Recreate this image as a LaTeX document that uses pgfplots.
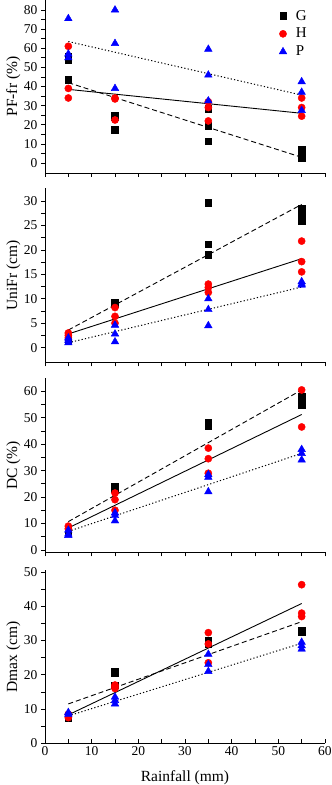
\documentclass[border=0pt]{standalone}
\usepackage{pgfplots}
\pgfplotsset{compat=1.18}
\usepackage{fontspec}
\setmainfont{Liberation Serif}
\definecolor{myred}{RGB}{255,0,0}
\definecolor{myblue}{RGB}{0,0,255}
\pgfplotsset{
  panel/.style={
    scale only axis, width=280pt, anchor=south west,
    axis lines*=left, axis line style={-, line width=0.8pt},
    xmin=0, xmax=60, xtick={0,10,...,60}, minor x tick num=1,
    /pgf/number format/assume math mode=true,
    tick label style={font=\fontsize{13.5}{13.5}\selectfont},
    label style={font=\fontsize{15.5}{15.5}\selectfont},
    major tick length=4pt, minor tick length=4pt,
    tick style={line width=0.7pt, black},
    tick align=outside,
    ylabel style={at={(axis description cs:-0.113,0.5)}, anchor=center},
    clip=false,
  },
  gmark/.style={only marks, mark=square*, mark size=3.3pt, black, mark options={fill=black, draw=black}},
  hmark/.style={only marks, mark=*, mark size=3.6pt, myred, mark options={fill=myred, draw=myred}},
  pmark/.style={only marks, mark=triangle*, mark size=4.4pt, myblue, mark options={fill=myblue, draw=myblue}},
  gline/.style={no marks, black, line width=0.9pt, dash pattern=on 5pt off 3pt},
  hline/.style={no marks, black, line width=0.9pt},
  pline/.style={no marks, black, line width=1pt, dash pattern=on 1.2pt off 2.2pt},
}
\begin{document}
\begin{tikzpicture}
\useasboundingbox (0,0) rectangle (332pt,785pt);
% Panel 1: PF-fr
\begin{axis}[panel, at={(45pt,612pt)}, height=173pt,
  ymin=-5.2, ymax=85.2, ytick={0,10,...,80}, minor y tick num=1,
  xticklabels={}, ylabel={PF-fr (\%)},
  legend style={draw=none, fill=none, at={(axis description cs:0.825,0.965)}, anchor=north west,
    font=\fontsize{15}{15}\selectfont, row sep=2.5pt, cells={anchor=west},
    /tikz/every odd column/.append style={column sep=7pt}},
  legend cell align=left]
\addplot[gmark] coordinates {(5,43.5) (5,54) (5,55.5) (15,25) (15,24) (15,17.5) (35,28.5) (35,19.5) (35,11.5) (55,7) (55,5) (55,2.5)};
\addlegendentry{G}
\addplot[hmark] coordinates {(5,61) (5,39) (5,34) (15,34) (15,33.5) (15,22.5) (35,32) (35,29) (35,22) (55,34) (55,29) (55,24.5)};
\addlegendentry{H}
\addplot[pmark] coordinates {(5,75.5) (5,57) (5,55) (15,80) (15,62.5) (15,39) (35,59.5) (35,46) (35,32.5) (55,42.5) (55,37) (55,27.5)};
\addlegendentry{P}
\addplot[gline] coordinates {(5,42) (55,3)};
\addplot[hline] coordinates {(5,38.5) (55,26)};
\addplot[pline] coordinates {(5,63.5) (55,35.5)};
\end{axis}
% Panel 2: UniFr
\begin{axis}[panel, at={(45pt,422.7pt)}, height=174pt,
  ymin=-3, ymax=32.6, ytick={0,5,...,30}, minor y tick num=1,
  xticklabels={}, ylabel={UniFr (cm)}]
\addplot[gmark] coordinates {(5,2) (5,1.5) (15,9.3) (15,9) (35,29.7) (35,21.2) (35,19) (55,28.5) (55,27) (55,26)};
\addplot[hmark] coordinates {(5,3) (5,2.5) (5,2) (15,8.2) (15,6.4) (15,5) (35,13) (35,12.3) (35,11.3) (55,21.8) (55,17.6) (55,15.5)};
\addplot[pmark] coordinates {(5,2) (5,1.5) (5,1) (15,4.6) (15,2.8) (15,1.2) (35,10) (35,7.8) (35,4.5) (55,13.5) (55,13) (55,12.8)};
\addplot[gline] coordinates {(5,3.6) (55,29.3)};
\addplot[hline] coordinates {(5,2.8) (55,18.2)};
\addplot[pline] coordinates {(5,1) (55,12.4)};
\end{axis}
% Panel 3: DC
\begin{axis}[panel, at={(45pt,232.7pt)}, height=174pt,
  ymin=-0.9, ymax=64.9, ytick={0,10,...,60}, minor y tick num=1,
  xticklabels={}, ylabel={DC (\%)}]
\addplot[gmark] coordinates {(5,8) (5,7) (15,24) (15,23) (35,48) (35,47) (55,58) (55,56) (55,55)};
\addplot[hmark] coordinates {(5,9) (5,8) (15,21.5) (15,19) (15,15) (35,38.5) (35,34.5) (35,29) (55,60.5) (55,46.5)};
\addplot[pmark] coordinates {(5,7.5) (5,6) (5,5.5) (15,14) (15,13) (15,11) (35,28.5) (35,27.5) (35,22) (55,38) (55,36.5) (55,34)};
\addplot[gline] coordinates {(5,10.7) (55,60.5)};
\addplot[hline] coordinates {(5,8.3) (55,51.2)};
\addplot[pline] coordinates {(5,7) (55,36.5)};
\end{axis}
% Panel 4: Dmax
\begin{axis}[panel, at={(45pt,41.7pt)}, height=173pt,
  ymin=0, ymax=50.5, ytick={0,10,...,50}, minor y tick num=1,
  xtick align=inside,
  ylabel={Dmax (cm)}, xlabel={Rainfall (mm)},
  xlabel style={at={(axis description cs:0.5,-0.218)}, anchor=base}]
\addplot[gmark] coordinates {(5,8) (5,7.5) (15,21) (15,20.5) (15,17) (35,30) (35,29) (55,33) (55,32.5)};
\addplot[hmark] coordinates {(5,8.5) (5,7.5) (15,16.5) (15,16) (15,17) (35,32.3) (35,29) (35,23.5) (55,46.3) (55,38) (55,37)};
\addplot[pmark] coordinates {(5,9) (5,8.5) (15,13.5) (15,12.5) (15,11.5) (35,26) (35,23) (35,21) (55,29.5) (55,28.5) (55,27.5)};
\addplot[gline] coordinates {(5,11.5) (55,35.5)};
\addplot[hline] coordinates {(5,8.3) (55,40.8)};
\addplot[pline] coordinates {(5,8) (55,29.2)};
\end{axis}
\end{tikzpicture}
\end{document}
